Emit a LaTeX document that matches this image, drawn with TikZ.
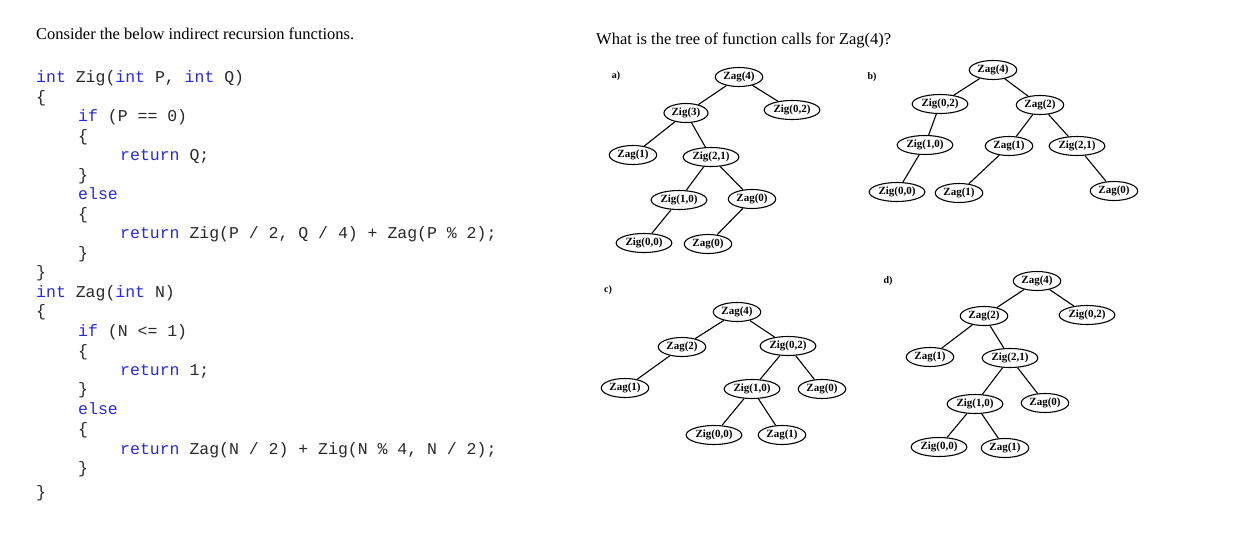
\documentclass[tikz,border=0pt]{standalone}
\usepackage{fontspec}
\setmainfont{Liberation Serif}
\setmonofont{Liberation Mono}
\usetikzlibrary{shapes.geometric}
\definecolor{kw}{RGB}{40,40,230}
\definecolor{cd}{RGB}{40,40,40}
\begin{document}
\begin{tikzpicture}[x=1pt,y=-1pt,
  tn/.style={ellipse,draw,line width=1.1pt,inner sep=1.2pt,font=\fontsize{11}{12}\selectfont\bfseries,minimum height=19pt},
  ed/.style={line width=1.1pt},
  lbl/.style={font=\fontsize{10}{12}\selectfont\bfseries},
  cl/.style={anchor=base west,inner sep=0pt,font=\fontsize{16.5}{18}\selectfont\ttfamily,text=cd},
  hd/.style={anchor=base west,inner sep=0pt,font=\fontsize{16.5}{18}\selectfont}]
\useasboundingbox (0,0) rectangle (1235,538);
\newcommand{\kw}[1]{\textcolor{kw}{#1}}
\node[hd] (h1) at (36,39) {Consider the below indirect recursion functions.};
\node[hd] (h2) at (596,45) {What is the tree of function calls for Zag(4)?};
\node[cl] (c1) at (36,82) {\kw{int} Zig(\kw{int} P, \kw{int} Q)};
\node[cl] (c2) at (36,102) {\{};
\node[cl] (c3) at (78,121) {\kw{if} (P == 0)};
\node[cl] (c4) at (78,141) {\{};
\node[cl] (c5) at (120,160) {\kw{return} Q;};
\node[cl] (c6) at (78,180) {\}};
\node[cl] (c7) at (78,199) {\kw{else}};
\node[cl] (c8) at (78,219) {\{};
\node[cl] (c9) at (120,238) {\kw{return} Zig(P / 2, Q / 4) + Zag(P \% 2);};
\node[cl] (c10) at (78,258) {\}};
\node[cl] (c11) at (36,277) {\}};
\node[cl] (c12) at (36,297) {\kw{int} Zag(\kw{int} N)};
\node[cl] (c13) at (36,316) {\{};
\node[cl] (c14) at (78,336) {\kw{if} (N <= 1)};
\node[cl] (c15) at (78,356) {\{};
\node[cl] (c16) at (120,375) {\kw{return} 1;};
\node[cl] (c17) at (78,394) {\}};
\node[cl] (c18) at (78,414) {\kw{else}};
\node[cl] (c19) at (78,434) {\{};
\node[cl] (c20) at (120,454) {\kw{return} Zag(N / 2) + Zig(N \% 4, N / 2);};
\node[cl] (c21) at (78,473) {\}};
\node[cl] (c22) at (36,497) {\}};
% a
\node[lbl] (la) at (616,76) {a)};
\node[tn] (a1) at (739,77) {Zag(4)};
\node[tn] (a2) at (686,113) {Zig(3)};
\node[tn] (a3) at (792,110) {Zig(0,2)};
\node[tn] (a4) at (633,155) {Zag(1)};
\node[tn] (a5) at (711,157) {Zig(2,1)};
\node[tn] (a6) at (679,200) {Zig(1,0)};
\node[tn] (a7) at (752,199) {Zag(0)};
\node[tn] (a8) at (644,243) {Zig(0,0)};
\node[tn] (a9) at (708,244) {Zag(0)};
\draw[ed] (a1)--(a2) (a1)--(a3) (a2)--(a4) (a2)--(a5) (a5)--(a6) (a5)--(a7) (a6)--(a8) (a7)--(a9);
% b
\node[lbl] (lb) at (872,77) {b)};
\node[tn] (b1) at (993,70) {Zag(4)};
\node[tn] (b2) at (940,104) {Zig(0,2)};
\node[tn] (b3) at (1040,105) {Zag(2)};
\node[tn] (b4) at (925,145) {Zig(1,0)};
\node[tn] (b5) at (1009,146) {Zag(1)};
\node[tn] (b6) at (1077,146) {Zig(2,1)};
\node[tn] (b7) at (897,192) {Zig(0,0)};
\node[tn] (b8) at (959,193) {Zag(1)};
\node[tn] (b9) at (1114,191) {Zag(0)};
\draw[ed] (b1)--(b2) (b1)--(b3) (b2)--(b4) (b4)--(b7) (b3)--(b5) (b3)--(b6) (b5)--(b8) (b6)--(b9);
% c
\node[lbl] (lc) at (608,290) {c)};
\node[tn] (c1n) at (737,312) {Zag(4)};
\node[tn] (c2n) at (682,347) {Zag(2)};
\node[tn] (c3n) at (788,346) {Zig(0,2)};
\node[tn] (c4n) at (625,388) {Zag(1)};
\node[tn] (c5n) at (752,389) {Zig(1,0)};
\node[tn] (c6n) at (822,389) {Zag(0)};
\node[tn] (c7n) at (714,435) {Zig(0,0)};
\node[tn] (c8n) at (782,435) {Zag(1)};
\draw[ed] (c1n)--(c2n) (c1n)--(c3n) (c2n)--(c4n) (c3n)--(c5n) (c3n)--(c6n) (c5n)--(c7n) (c5n)--(c8n);
% d
\node[lbl] (ld) at (888,281) {d)};
\node[tn] (d1) at (1037,281) {Zag(4)};
\node[tn] (d2) at (984,316) {Zag(2)};
\node[tn] (d3) at (1087,315) {Zig(0,2)};
\node[tn] (d4) at (930,357) {Zag(1)};
\node[tn] (d5) at (1010,358) {Zig(2,1)};
\node[tn] (d6) at (975,404) {Zig(1,0)};
\node[tn] (d7) at (1045,403) {Zag(0)};
\node[tn] (d8) at (939,447) {Zig(0,0)};
\node[tn] (d9) at (1005,448) {Zag(1)};
\draw[ed] (d1)--(d2) (d1)--(d3) (d2)--(d4) (d2)--(d5) (d5)--(d6) (d5)--(d7) (d6)--(d8) (d6)--(d9);
\end{tikzpicture}
\end{document}
